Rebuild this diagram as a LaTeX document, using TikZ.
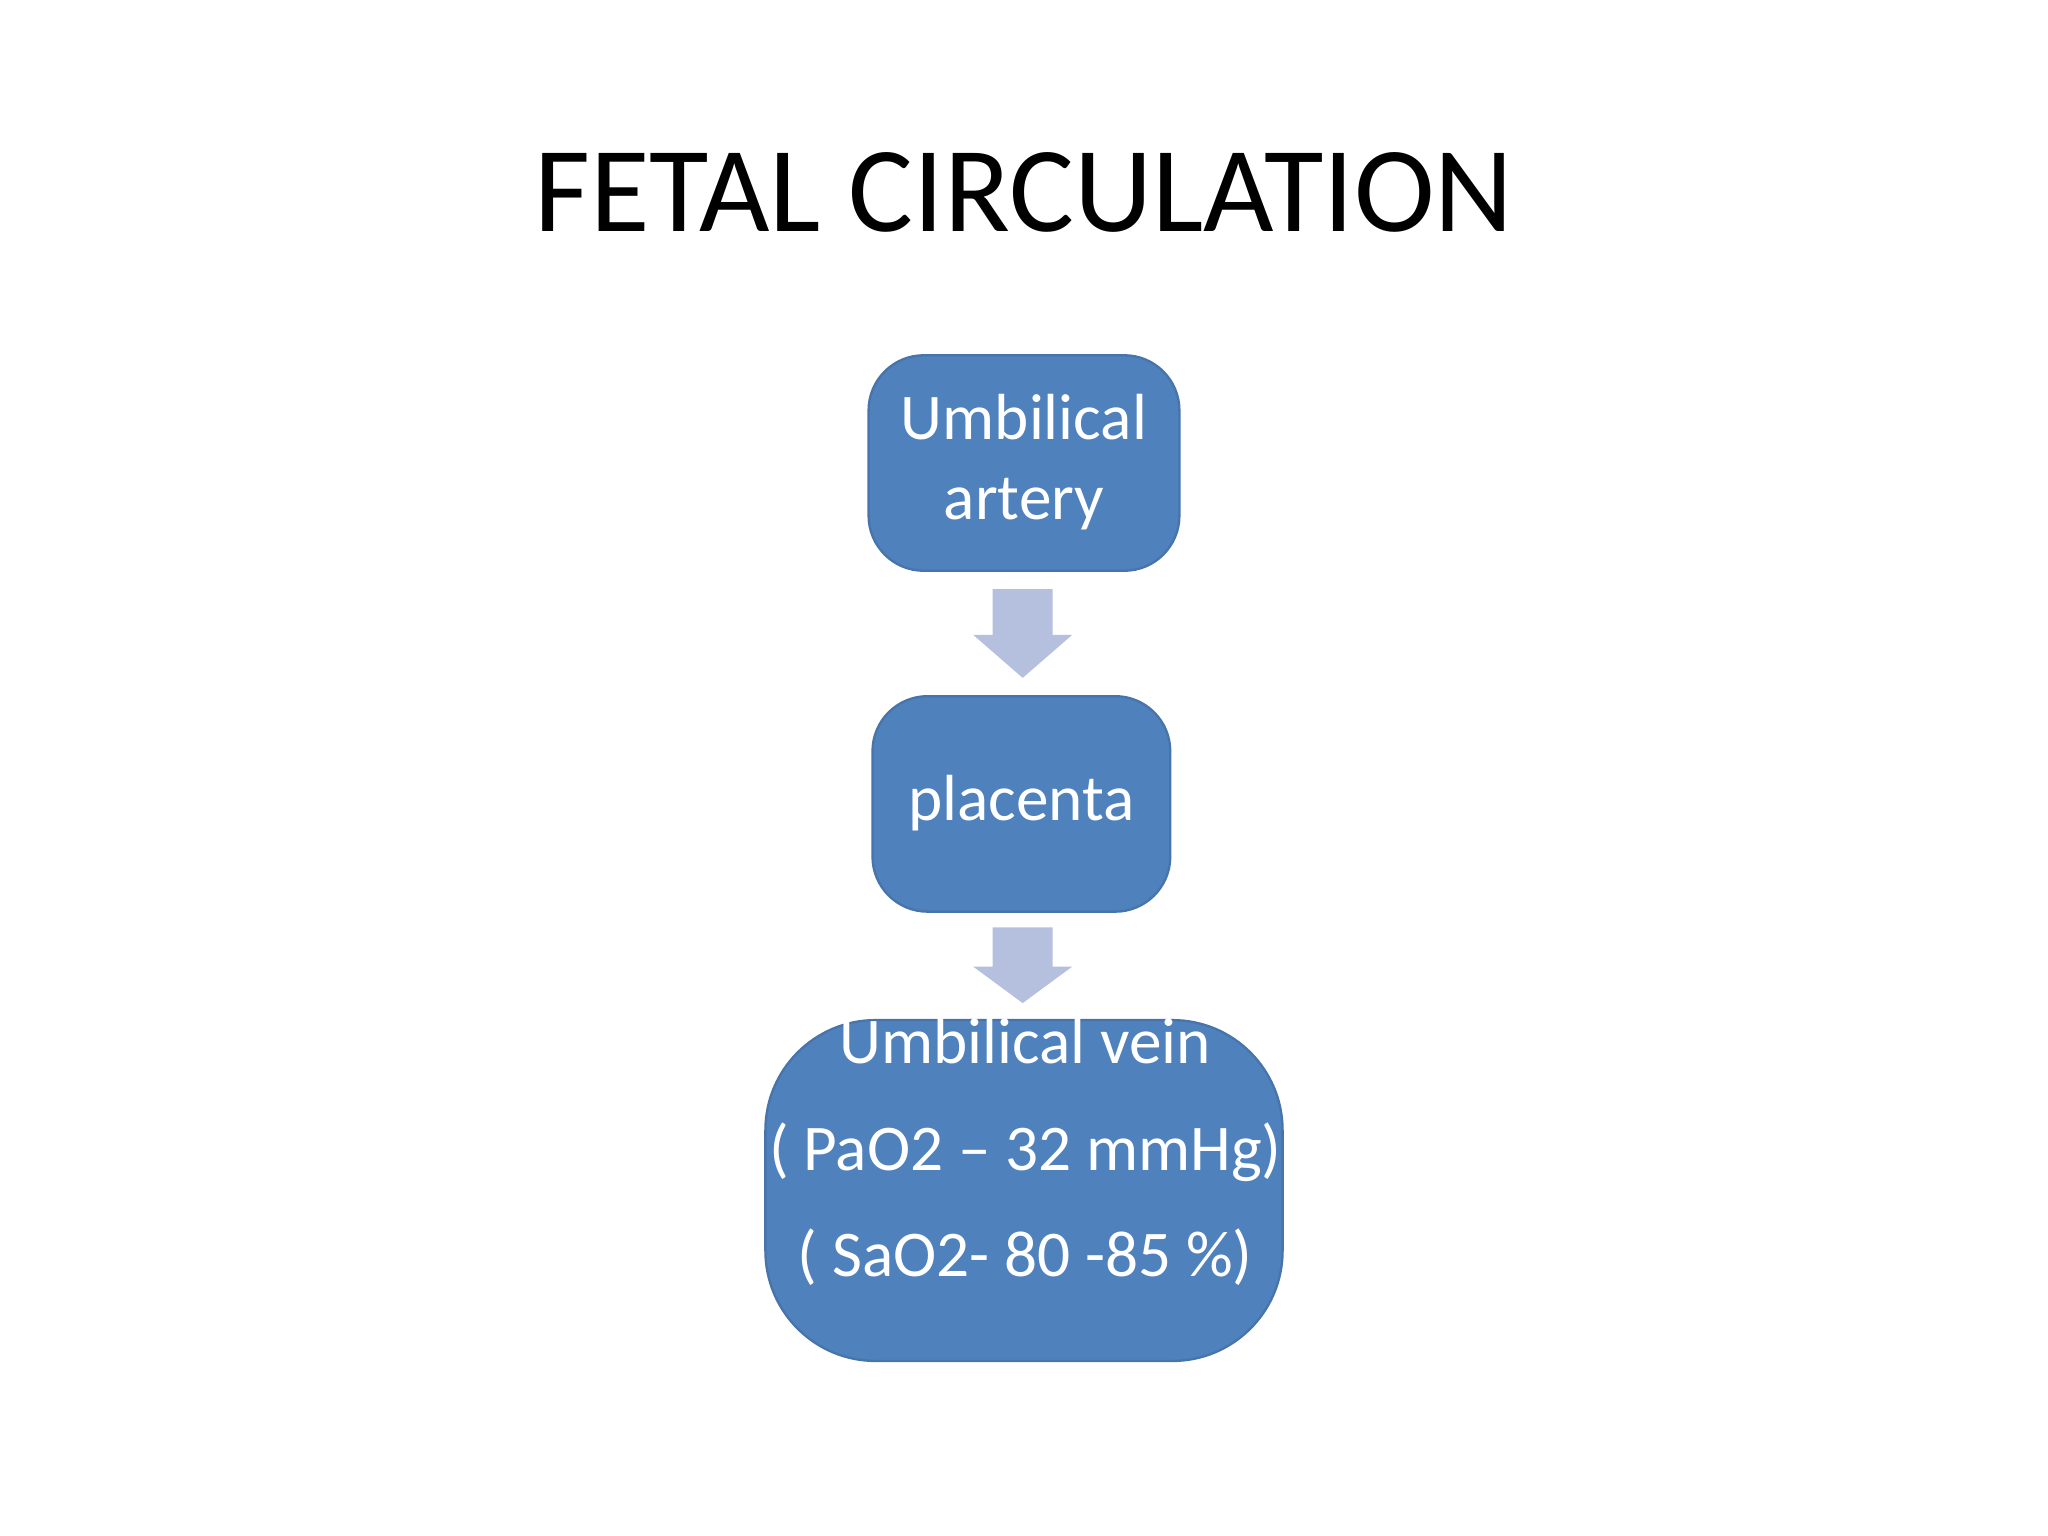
\documentclass[tikz,border=0pt]{standalone}
\usepackage{fontspec}
\setmainfont{Carlito}
\definecolor{boxblue}{HTML}{4F81BD}
\definecolor{arrblue}{HTML}{B4C0DD}
\begin{document}
\begin{tikzpicture}[x=0.01cm,y=-0.01cm,
  box/.style={fill=boxblue,draw=boxblue!90!black,line width=0.5pt,text=white,font=\fontsize{14.2pt}{17.5pt}\selectfont,align=center},
  blockarrow/.style={fill=arrblue,draw=none}]
\useasboundingbox (0,0) rectangle (1568,1176);
\node[font=\fontsize{26.5pt}{30pt}\selectfont] (title) at (784,147) {FETAL CIRCULATION};
\draw[box,rounded corners=12] (665,272) rectangle (903,437);
\node[box,fill=none,draw=none] (a) at (784,354) {Umbilical\\artery};
\draw[box,rounded corners=12] (668,533) rectangle (896,698);
\node[box,fill=none,draw=none] (b) at (782,615) {placenta};
\draw[box,rounded corners=24] (586,781) rectangle (982,1042);
\node[box,fill=none,draw=none,font=\fontsize{14.2pt}{19pt}\selectfont] (c) at (785,882) {Umbilical vein\\[0.3em]( PaO2 -- 32 mmHg)\\[0.3em]( SaO2- 80 -85 \%)};
\fill[blockarrow] (760,451) -- (806,451) -- (806,486) -- (821,486) -- (783,519) -- (745,486) -- (760,486) -- cycle;
\fill[blockarrow] (760,710) -- (806,710) -- (806,740) -- (821,740) -- (783,768) -- (745,740) -- (760,740) -- cycle;
\end{tikzpicture}
\end{document}
